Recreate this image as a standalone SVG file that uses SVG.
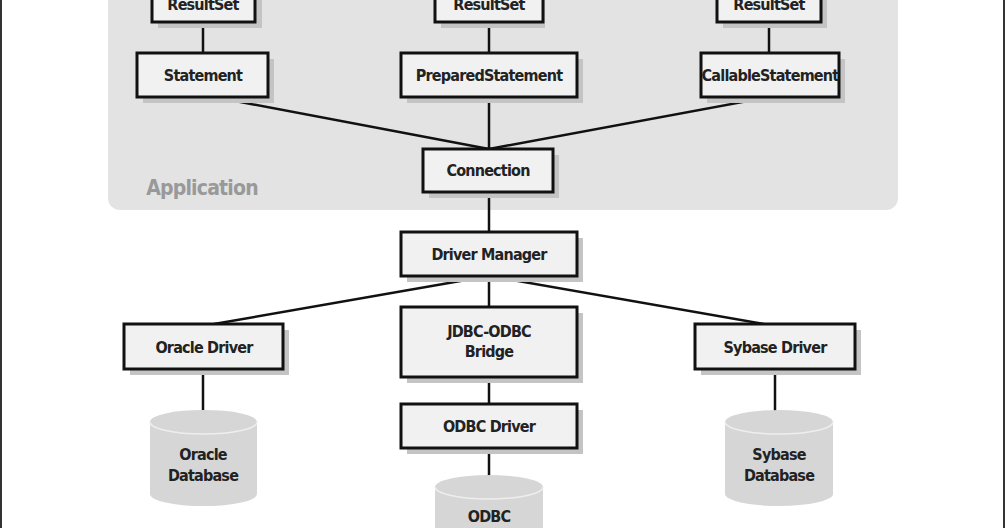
<svg xmlns="http://www.w3.org/2000/svg" width="1006" height="528" viewBox="0 0 1006 528">
<style>
.b{fill:#f1f1f1;stroke:#111;stroke-width:3}
.s{fill:#c4c4c4}
.t{font-family:"DejaVu Sans Condensed","DejaVu Sans",sans-serif;font-stretch:condensed;font-size:16px;font-weight:bold;letter-spacing:-0.8px;fill:#222;text-anchor:middle}
.c{stroke:#111;stroke-width:2.5;fill:none}
.db{fill:#d6d6d6;stroke:none}
</style>
<rect width="1006" height="528" fill="#fff"/>
<line x1="1" y1="0" x2="1" y2="528" stroke="#333" stroke-width="2"/>
<line x1="1004" y1="0" x2="1004" y2="528" stroke="#333" stroke-width="2"/>
<g id="application"><rect x="108" y="-20" width="790" height="230" rx="12" fill="#e3e3e3"/>
<text x="202" y="195" style="font-family:'DejaVu Sans Condensed','DejaVu Sans',sans-serif;font-size:21px;font-weight:bold;letter-spacing:-0.8px;fill:#999" text-anchor="middle">Application</text></g>
<g id="connectors">
<line class="c" x1="203" y1="22" x2="203" y2="54"/>
<line class="c" x1="489" y1="22" x2="489" y2="54"/>
<line class="c" x1="769" y1="22" x2="769" y2="54"/>
<line class="c" x1="214" y1="97" x2="489" y2="149"/>
<line class="c" x1="489" y1="97" x2="489" y2="149"/>
<line class="c" x1="769" y1="97" x2="489" y2="149"/>
<line class="c" x1="489" y1="192" x2="489" y2="233"/>
<line class="c" x1="489" y1="276" x2="214" y2="324"/>
<line class="c" x1="489" y1="276" x2="489" y2="308"/>
<line class="c" x1="489" y1="276" x2="764" y2="324"/>
<line class="c" x1="203" y1="369" x2="203" y2="420"/>
<line class="c" x1="775" y1="369" x2="775" y2="420"/>
<line class="c" x1="489" y1="377" x2="489" y2="405"/>
<line class="c" x1="489" y1="448" x2="489" y2="485"/>
</g>
<g id="rs1"><rect class="s" x="158" y="-14" width="104" height="42"/><rect class="b" x="152" y="-20" width="103" height="42"/><text class="t" x="203" y="10">ResultSet</text></g>
<g id="rs2"><rect class="s" x="441" y="-14" width="104" height="42"/><rect class="b" x="435" y="-20" width="108" height="42"/><text class="t" x="489" y="10">ResultSet</text></g>
<g id="rs3"><rect class="s" x="723" y="-14" width="104" height="42"/><rect class="b" x="717" y="-20" width="104" height="42"/><text class="t" x="769" y="10">ResultSet</text></g>
<g id="statement"><rect class="s" x="143" y="59" width="131" height="44"/><rect class="b" x="137" y="53" width="131" height="44"/><text class="t" x="203" y="81">Statement</text></g>
<g id="prepared"><rect class="s" x="407" y="59" width="176" height="44"/><rect class="b" x="401" y="53" width="176" height="44"/><text class="t" x="489" y="81">PreparedStatement</text></g>
<g id="callable"><rect class="s" x="707" y="59" width="138" height="44"/><rect class="b" x="701" y="53" width="138" height="44"/><text class="t" x="770" y="81">CallableStatement</text></g>
<g id="connection"><rect class="s" x="429" y="155" width="130" height="43"/><rect class="b" x="423" y="149" width="130" height="43"/><text class="t" x="488" y="176">Connection</text></g>
<g id="drivermanager"><rect class="s" x="407" y="238" width="176" height="44"/><rect class="b" x="401" y="232" width="176" height="44"/><text class="t" x="489" y="260">Driver Manager</text></g>
<g id="oracledriver"><rect class="s" x="130" y="330" width="159" height="45"/><rect class="b" x="124" y="324" width="159" height="45"/><text class="t" x="204" y="353">Oracle Driver</text></g>
<g id="bridge"><rect class="s" x="407" y="313" width="176" height="70"/><rect class="b" x="401" y="307" width="176" height="70"/><text class="t" x="489" y="337">JDBC-ODBC</text><text class="t" x="489" y="357">Bridge</text></g>
<g id="sybasedriver"><rect class="s" x="701" y="330" width="160" height="45"/><rect class="b" x="695" y="324" width="160" height="45"/><text class="t" x="775" y="353">Sybase Driver</text></g>
<g id="odbcdriver"><rect class="s" x="407" y="410" width="176" height="44"/><rect class="b" x="401" y="404" width="176" height="44"/><text class="t" x="489" y="432">ODBC Driver</text></g>
<g id="oracledb"><path class="db" d="M150,422 A53,12 0 0 1 257,422 V494 A53,12 0 0 1 150,494 Z"/><path d="M150,422 A53,12 0 0 0 257,422" fill="none" stroke="#eee" stroke-width="1.5"/><text class="t" x="203" y="460">Oracle</text><text class="t" x="203" y="481">Database</text></g>
<g id="odbcdb"><path class="db" d="M435,487 A54,12 0 0 1 543,487 V540 H435 Z"/><path d="M435,487 A54,12 0 0 0 543,487" fill="none" stroke="#eee" stroke-width="1.5"/><text class="t" x="489" y="522">ODBC</text></g>
<g id="sybasedb"><path class="db" d="M725,422 A54,12 0 0 1 833,422 V494 A54,12 0 0 1 725,494 Z"/><path d="M725,422 A54,12 0 0 0 833,422" fill="none" stroke="#eee" stroke-width="1.5"/><text class="t" x="779" y="460">Sybase</text><text class="t" x="779" y="481">Database</text></g>
</svg>
